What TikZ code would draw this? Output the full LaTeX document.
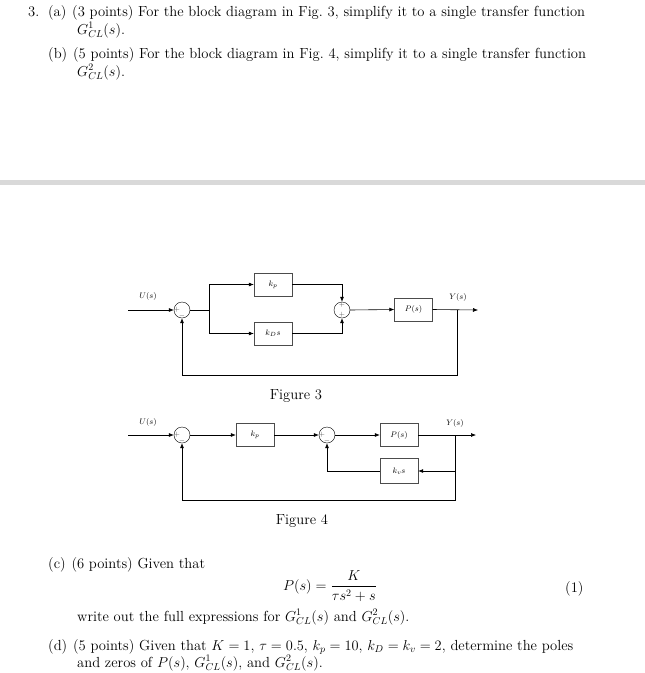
\documentclass[tikz,border=0pt]{standalone}
\usepackage{amsmath}
\usetikzlibrary{arrows.meta}
\begin{document}
\begin{tikzpicture}[x=1pt,y=-1pt,
  txt/.style={anchor=base west,inner sep=0pt,font=\fontsize{14.6}{17}\selectfont},
  blk/.style={draw=black!70,minimum width=38pt,minimum height=23pt,inner sep=0pt,font=\fontsize{8}{9}\selectfont},
  sumn/.style={draw,circle,minimum size=16pt,inner sep=0pt},
  lbl/.style={font=\fontsize{8}{9}\selectfont,inner sep=0pt},
  sg/.style={font=\fontsize{7}{7}\selectfont,inner sep=0pt,text=black!70},
  ln/.style={line width=0.6pt},
  ar/.style={ln,-{Latex[length=5pt,width=4pt]}}]
\useasboundingbox (0,0) rectangle (645,673);
\fill[black!15] (0,180) rectangle (645,185);
% text
\node[txt] (t1) at (28,16) {3.\hspace{0.6em}(a)\hspace{0.4em}(3 points) For the block diagram in Fig.\ 3, simplify it to a single transfer function};
\node[txt] (t2) at (77,34) {$G^1_{CL}(s)$.};
\node[txt] (t3) at (48,58) {(b)\hspace{0.4em}(5 points) For the block diagram in Fig.\ 4, simplify it to a single transfer function};
\node[txt] (t4) at (77,76) {$G^2_{CL}(s)$.};
% Figure 3
\node[sumn] (s1) at (182,310) {};
\node[sg] at (177,310) {$+$};
\node[sg] at (182,316) {$-$};
\coordinate (in1) at (128,310);
\coordinate (b1) at (209,310);
\node[blk] (kp) at (273,284.5) {$k_p$};
\node[blk] (kd) at (273,333.5) {$k_Ds$};
\node[sumn] (s2) at (342,310) {};
\node[sg] at (342,305) {$+$};
\node[sg] at (342,315) {$+$};
\node[blk] (P1) at (413.5,309.5) {$P(s)$};
\coordinate (o1) at (457,310);
\coordinate (e1) at (478,310);
\node[lbl] at (148,296) {$U(s)$};
\node[lbl] at (458,297) {$Y(s)$};
\draw[ar] (in1) -- (s1.west);
\draw[ln] (s1.east) -- (b1);
\draw[ar] (b1) |- (kp.west);
\draw[ar] (b1) |- (kd.west);
\draw[ar] (kp.east) -| (s2.north);
\draw[ar] (kd.east) -| (s2.south);
\draw[ar] (s2.east) -- (P1.west);
\draw[ar] (P1.east) -- (e1);
\draw[ar] (o1) -- (457,375) -| (s1.south);
\node[txt,anchor=base] (f3) at (296,399) {Figure 3};
% Figure 4
\node[sumn] (u1) at (182,435) {};
\node[sg] at (177,435) {$+$};
\node[sg] at (182,441) {$-$};
\node[blk] (kp2) at (255,435) {$k_p$};
\node[sumn] (u2) at (327,435) {};
\node[sg] at (322,435) {$+$};
\node[sg] at (327,441) {$-$};
\node[blk] (P2) at (399,435) {$P(s)$};
\node[blk,minimum height=25pt] (kv) at (399,471) {$k_vs$};
\coordinate (o2) at (455,435);
\coordinate (e2) at (476,435);
\coordinate (in2) at (128,435);
\node[lbl] at (148,422) {$U(s)$};
\node[lbl] at (455,423) {$Y(s)$};
\draw[ar] (in2) -- (u1.west);
\draw[ar] (u1.east) -- (kp2.west);
\draw[ar] (kp2.east) -- (u2.west);
\draw[ar] (u2.east) -- (P2.west);
\draw[ar] (P2.east) -- (e2);
\draw[ar] (o2) |- (kv.east);
\draw[ar] (kv.west) -| (u2.south);
\draw[ar] (o2) -- (455,500) -| (u1.south);
\node[txt,anchor=base] (f4) at (302,524) {Figure 4};
% bottom text
\node[txt] (c1) at (48,568) {(c)\hspace{0.4em}(6 points) Given that};
\node[txt,anchor=center] (eq) at (330,586) {$\displaystyle P(s)=\frac{K}{\tau s^2+s}$};
\node[txt] (eqn) at (565,592) {(1)};
\node[txt] (c2) at (77,621) {write out the full expressions for $G^1_{CL}(s)$ and $G^2_{CL}(s)$.};
\node[txt] (d1) at (48,650) {(d)\hspace{0.4em}(5 points) Given that $K=1$, $\tau=0.5$, $k_p=10$, $k_D=k_v=2$, determine the poles};
\node[txt] (d2) at (77,667) {and zeros of $P(s)$, $G^1_{CL}(s)$, and $G^2_{CL}(s)$.};
\end{tikzpicture}
\end{document}
